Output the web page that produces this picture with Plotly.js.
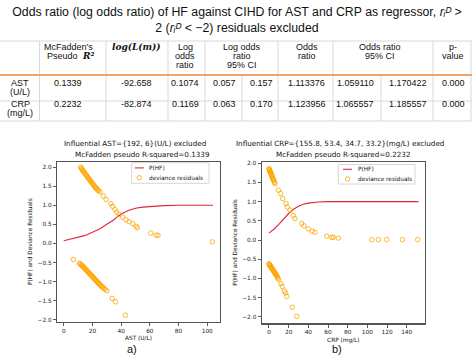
<!DOCTYPE html>
<html><head><meta charset="utf-8">
<script src="https://cdn.plot.ly/plotly-3.0.1.min.js"></script>
<style>html,body{margin:0;padding:0;background:#fff;}#chart{width:474px;height:356px;}</style>
</head><body><div id="chart"></div>
<script>
// ---------- table data ----------
const tableHeaders = ["McFadden's<br>Pseudo", "log(L(m))",
  "Log<br>odds<br>ratio", "Log odds<br>ratio<br>95% CI", "Odds<br>ratio", "Odds ratio<br>95% CI", "p-<br>value"];
const r2Symbol = "R²";
const regressors = ["AST<br>(U/L)", "CRP<br>(mg/L)"];
const pseudoR2 = [0.1339, 0.2232];
const logLik = [-92.658, -82.874];
const logOddsRatio = [0.1074, 0.1169];
const logOddsLow = [0.057, 0.063];
const logOddsHigh = [0.157, 0.170];
const oddsRatio = [1.113376, 1.123956];
const oddsLow = [1.059110, 1.065557];
const oddsHigh = [1.170422, 1.185557];
const pValue = [0.000, 0.000];

// ---------- panel a) AST ----------
const astCurveX = [0, 5, 10, 15, 20, 25, 30, 35, 38, 40, 45, 50, 55, 60, 70, 80, 90, 104];
const astCurveY = [0.07, 0.11, 0.15, 0.21, 0.29, 0.38, 0.50, 0.62, 0.72, 0.77, 0.86, 0.92, 0.95, 0.97, 0.99, 1.0, 1.0, 1.0];
const astResidX = [11.8,12.2,12.6,13.0,13.5,14.0,14.5,15.0,15.5,16.0,16.6,17.0,17.5,18.0,18.5,19.0,19.6,20.0,20.5,21.0,21.6,22.0,22.5,23.0,23.6,24.2,25.3,
  27.6,29.5,32.8,34.1,35.7,36.9,38.5,41.1,43.4,45.5,48.1,50.4,51.3,60.6,64.3,65.7,103.6,
  6.7,10.9,11.5,12.0,12.5,13.0,13.5,14.0,14.5,15.0,15.5,16.0,16.5,17.0,17.5,18.0,18.5,19.0,19.5,20.0,20.5,21.0,21.5,22.0,22.5,23.0,23.5,24.0,24.5,25.0,25.5,26.0,26.6,27.2,28.0,28.8,30.0,
  33.7,36.0,42.9];
const astResidY = [2.00,1.97,1.95,1.92,1.90,1.87,1.85,1.82,1.80,1.77,1.74,1.72,1.69,1.67,1.64,1.62,1.59,1.57,1.54,1.52,1.49,1.47,1.45,1.43,1.40,1.38,1.35,
  1.24,1.15,1.04,0.97,0.89,0.82,0.76,0.69,0.62,0.57,0.52,0.45,0.41,0.27,0.22,0.21,0.04,
  -0.42,-0.52,-0.54,-0.56,-0.57,-0.59,-0.61,-0.63,-0.65,-0.67,-0.69,-0.71,-0.73,-0.75,-0.77,-0.79,-0.81,-0.83,-0.85,-0.87,-0.89,-0.91,-0.93,-0.95,-0.97,-0.99,-1.01,-1.03,-1.05,-1.07,-1.09,-1.11,-1.13,-1.15,-1.18,-1.20,-1.24,
  -1.44,-1.53,-1.88];

// ---------- panel b) CRP ----------
const crpCurveX = [0, 5, 10, 15, 20, 25, 30, 35, 40, 50, 60, 80, 100, 120, 152];
const crpCurveY = [0.18, 0.28, 0.41, 0.56, 0.69, 0.80, 0.88, 0.93, 0.96, 0.99, 1.0, 1.0, 1.0, 1.0, 1.0];
const crpResidX = [0,0.3,0.6,0.9,1.2,1.5,1.8,2.1,2.4,2.8,3.2,3.6,4.0,4.5,5.0,5.5,6.1,
  9.5,11.9,13.9,17.3,18.6,21.4,24.7,26.4,33.2,35.6,40.0,44.0,46.8,58.7,63.8,65.4,70.5,104.4,111.2,119.7,135.6,151.2,
  0,0.3,0.6,1.0,1.4,1.8,2.2,2.6,3.0,3.5,4.0,4.5,5.0,5.5,6.0,6.5,7.0,7.5,8.0,8.5,9.0,9.5,
  12.2,13.5,15.6,16.9,18.0,23.7,28.2];
const crpResidY = [1.86,1.84,1.82,1.80,1.78,1.76,1.74,1.72,1.70,1.68,1.65,1.62,1.60,1.57,1.54,1.50,1.47,
  1.30,1.21,1.08,0.95,0.86,0.78,0.64,0.56,0.43,0.37,0.29,0.23,0.20,0.10,0.07,0.07,0.05,0.01,0.01,0.01,0.01,0.01,
  -0.62,-0.63,-0.65,-0.66,-0.68,-0.69,-0.71,-0.73,-0.74,-0.76,-0.78,-0.80,-0.82,-0.84,-0.86,-0.88,-0.90,-0.92,-0.94,-0.96,-0.99,-1.02,
  -1.14,-1.21,-1.33,-1.38,-1.47,-1.75,-1.99];

const legendLabels = ['P(HF)', 'deviance residuals'];

// ---------- layout helpers ----------
const W = 474, H = 356;
const px = x => x / W;
const py = y => 1 - y / H;
const RED = '#e2263a', ORANGE = '#ffa500';
const plotFont = 'DejaVu Sans, sans-serif';
const tabFont = 'Liberation Sans, Arial, sans-serif';

const annotations = [];
const shapes = [];
function addText(text, x, y, size, opts) {
  annotations.push(Object.assign({
    text: text, xref: 'paper', yref: 'paper', x: px(x), y: py(y),
    xanchor: 'center', yanchor: 'middle', showarrow: false, borderpad: 0,
    font: {family: tabFont, size: size, color: '#111'}
  }, opts || {}));
}

// table header
const headerX = [68.3, 136, 185, 241.7, 306.7, 380, 453];
const lineGap = 8.7;
tableHeaders.forEach((h, i) => {
  h.split('<br>').forEach((ln, j) => {
    if (i === 0 && j === 1) {
      addText(ln, 78.5, 47.5 + j * lineGap, 9, {xanchor: 'right'});
      return;
    }
    const isMath = i === 1;
    addText(ln, headerX[i], 47.5 + j * lineGap, 9,
      isMath ? {font: {family: 'DejaVu Serif, serif', size: 9, color: '#111', weight: 'bold', style: 'italic'}} : {});
  });
});
addText(r2Symbol, 80.5, 47.5 + lineGap, 9, {xanchor: 'left',
  font: {family: 'DejaVu Serif, serif', size: 9, color: '#111', weight: 'bold', style: 'italic'}});

// table body
const cellX = [68.3, 136, 185, 224, 261.7, 306.7, 355, 408.3, 453];
const rowY = [83.3, 104];
regressors.forEach((r, k) => {
  r.split('<br>').forEach((ln, j) => addText(ln, 20, rowY[k] + j * lineGap, 9));
  const vals = [pseudoR2[k].toFixed(4), logLik[k].toFixed(3), logOddsRatio[k].toFixed(4),
    logOddsLow[k].toFixed(3), logOddsHigh[k].toFixed(3), oddsRatio[k].toFixed(6),
    oddsLow[k].toFixed(6), oddsHigh[k].toFixed(6), pValue[k].toFixed(3)];
  vals.forEach((v, c) => addText(v, cellX[c], rowY[k], 9));
});
// table rules
const grey = '#d9d9d9';
function hline(y, x0, x1, color, w) {
  shapes.push({type: 'line', xref: 'paper', yref: 'paper', x0: px(x0), x1: px(x1), y0: py(y), y1: py(y), line: {color: color, width: w}});
}
function vline(x, y0, y1) {
  shapes.push({type: 'line', xref: 'paper', yref: 'paper', x0: px(x), x1: px(x), y0: py(y0), y1: py(y1), line: {color: grey, width: 1}});
}
hline(41, 0, 472, grey, 1);
hline(101, 0, 472, grey, 1);
hline(121, 0, 472, grey, 1);
[39.5, 106, 168, 205, 278, 333, 433, 471].forEach(x => vline(x, 41, 121));
[242, 381].forEach(x => vline(x, 75, 121));
hline(75, 0, 472, '#f2a36c', 2);

// subplot titles
function plotText(text, x, y, size, opts) {
  addText(text, x, y, size, Object.assign({font: {family: plotFont, size: size, color: '#111'}}, opts || {}));
}
plotText('Influential AST={192, 6}(U/L) excluded', 135.3, 143.3, 7.2);
plotText('McFadden pseudo R-squared=0.1339', 142.7, 154.3, 7.2);
plotText('Influential CRP={155.8, 53.4, 34.7, 33.2}(mg/L) excluded', 340, 143.3, 7.2);
plotText('McFadden pseudo R-squared=0.2232', 342.7, 154.3, 7.2);
addText('a)', 131.7, 349, 11, {font: {family: tabFont, size: 11, color: '#111'}});
addText('b)', 336.7, 349, 11, {font: {family: tabFont, size: 11, color: '#111'}});

// legend boxes (matplotlib style)
function legendBox(x0, y0, x1, y1, lineY, markY, textX) {
  shapes.push({type: 'rect', xref: 'paper', yref: 'paper', x0: px(x0), x1: px(x1), y0: py(y1), y1: py(y0),
    fillcolor: 'rgba(255,255,255,0.85)', line: {color: '#cccccc', width: 0.8}});
  shapes.push({type: 'line', xref: 'paper', yref: 'paper', x0: px(textX - 13.5), x1: px(textX - 4.5), y0: py(lineY), y1: py(lineY),
    line: {color: RED, width: 1.1}});
  const cx = textX - 9;
  shapes.push({type: 'circle', xref: 'paper', yref: 'paper', x0: px(cx - 2.2), x1: px(cx + 2.2), y0: py(markY + 2.2), y1: py(markY - 2.2),
    line: {color: ORANGE, width: 0.8}});
  plotText(legendLabels[0], textX, lineY, 5.8, {xanchor: 'left'});
  plotText(legendLabels[1], textX, markY, 5.8, {xanchor: 'left'});
}
legendBox(131.7, 162.7, 209, 183.3, 167.9, 177.7, 148.3);
legendBox(338.3, 164.5, 415, 184, 169.3, 179, 356.5);

const traces = [
  {x: astCurveX, y: astCurveY, type: 'scatter', mode: 'lines', name: 'P(HF)', line: {color: RED, width: 1.1}, xaxis: 'x', yaxis: 'y'},
  {x: astResidX, y: astResidY, type: 'scatter', mode: 'markers', name: 'deviance residuals',
    marker: {symbol: 'circle-open', size: 4.5, color: ORANGE, line: {width: 0.8}}, xaxis: 'x', yaxis: 'y'},
  {x: crpCurveX, y: crpCurveY, type: 'scatter', mode: 'lines', name: 'P(HF)', line: {color: RED, width: 1.1}, xaxis: 'x2', yaxis: 'y2'},
  {x: crpResidX, y: crpResidY, type: 'scatter', mode: 'markers', name: 'deviance residuals',
    marker: {symbol: 'circle-open', size: 4.5, color: ORANGE, line: {width: 0.8}}, xaxis: 'x2', yaxis: 'y2'}
];

function axisBase() {
  return {
    showline: true, mirror: true, linecolor: '#555', linewidth: 1.2,
    ticks: 'outside', ticklen: 3, tickwidth: 0.8, tickcolor: '#333',
    showgrid: false, zeroline: false, automargin: false,
    tickfont: {family: plotFont, size: 5.8, color: '#222'}
  };
}
const yTicks = [-2, -1.5, -1, -0.5, 0, 0.5, 1, 1.5, 2];

const rID = '<i>r</i><i>ᵢᴰ</i>';
const layout = {
  width: W, height: H,
  margin: {l: 0, r: 0, t: 0, b: 0},
  paper_bgcolor: '#fff', plot_bgcolor: '#fff',
  showlegend: false,
  title: {
    text: 'Odds ratio (log odds ratio) of HF against CIHD for AST and CRP as regressor, ' + rID + ' &gt;<br>2 (' + rID + ' &lt; −2) residuals excluded',
    font: {family: tabFont, size: 12.3, color: '#111'},
    x: 0.5, xanchor: 'center', xref: 'paper', yref: 'container', y: py(15.8), yanchor: 'middle'
  },
  xaxis: Object.assign(axisBase(), {domain: [px(57), px(220)], range: [-4.7, 108.9], anchor: 'y',
    tickvals: [0, 20, 40, 60, 80, 100], title: {text: 'AST (U/L)', font: {family: plotFont, size: 5.8, color: '#111'}, standoff: 3}}),
  yaxis: Object.assign(axisBase(), {domain: [py(321.7), py(161.7)], range: [-2.05, 2.14], anchor: 'x',
    tickvals: yTicks, tickformat: '.1f', title: {text: 'P(HF) and Deviance Residuals', font: {family: plotFont, size: 5.8, color: '#111'}, standoff: 4}}),
  xaxis2: Object.assign(axisBase(), {domain: [px(261.7), px(425)], range: [-7.4, 158.6], anchor: 'y2',
    tickvals: [0, 20, 40, 60, 80, 100, 120, 140], title: {text: 'CRP (mg/L)', font: {family: plotFont, size: 5.8, color: '#111'}, standoff: 3}}),
  yaxis2: Object.assign(axisBase(), {domain: [py(323.3), py(161.7)], range: [-2.17, 2.04], anchor: 'x2',
    tickvals: yTicks, tickformat: '.1f', title: {text: 'P(HF) and Deviance Residuals', font: {family: plotFont, size: 5.8, color: '#111'}, standoff: 4}}),
  annotations: annotations,
  shapes: shapes
};

Plotly.newPlot('chart', traces, layout, {displayModeBar: false, staticPlot: true});
</script>
</body></html>
